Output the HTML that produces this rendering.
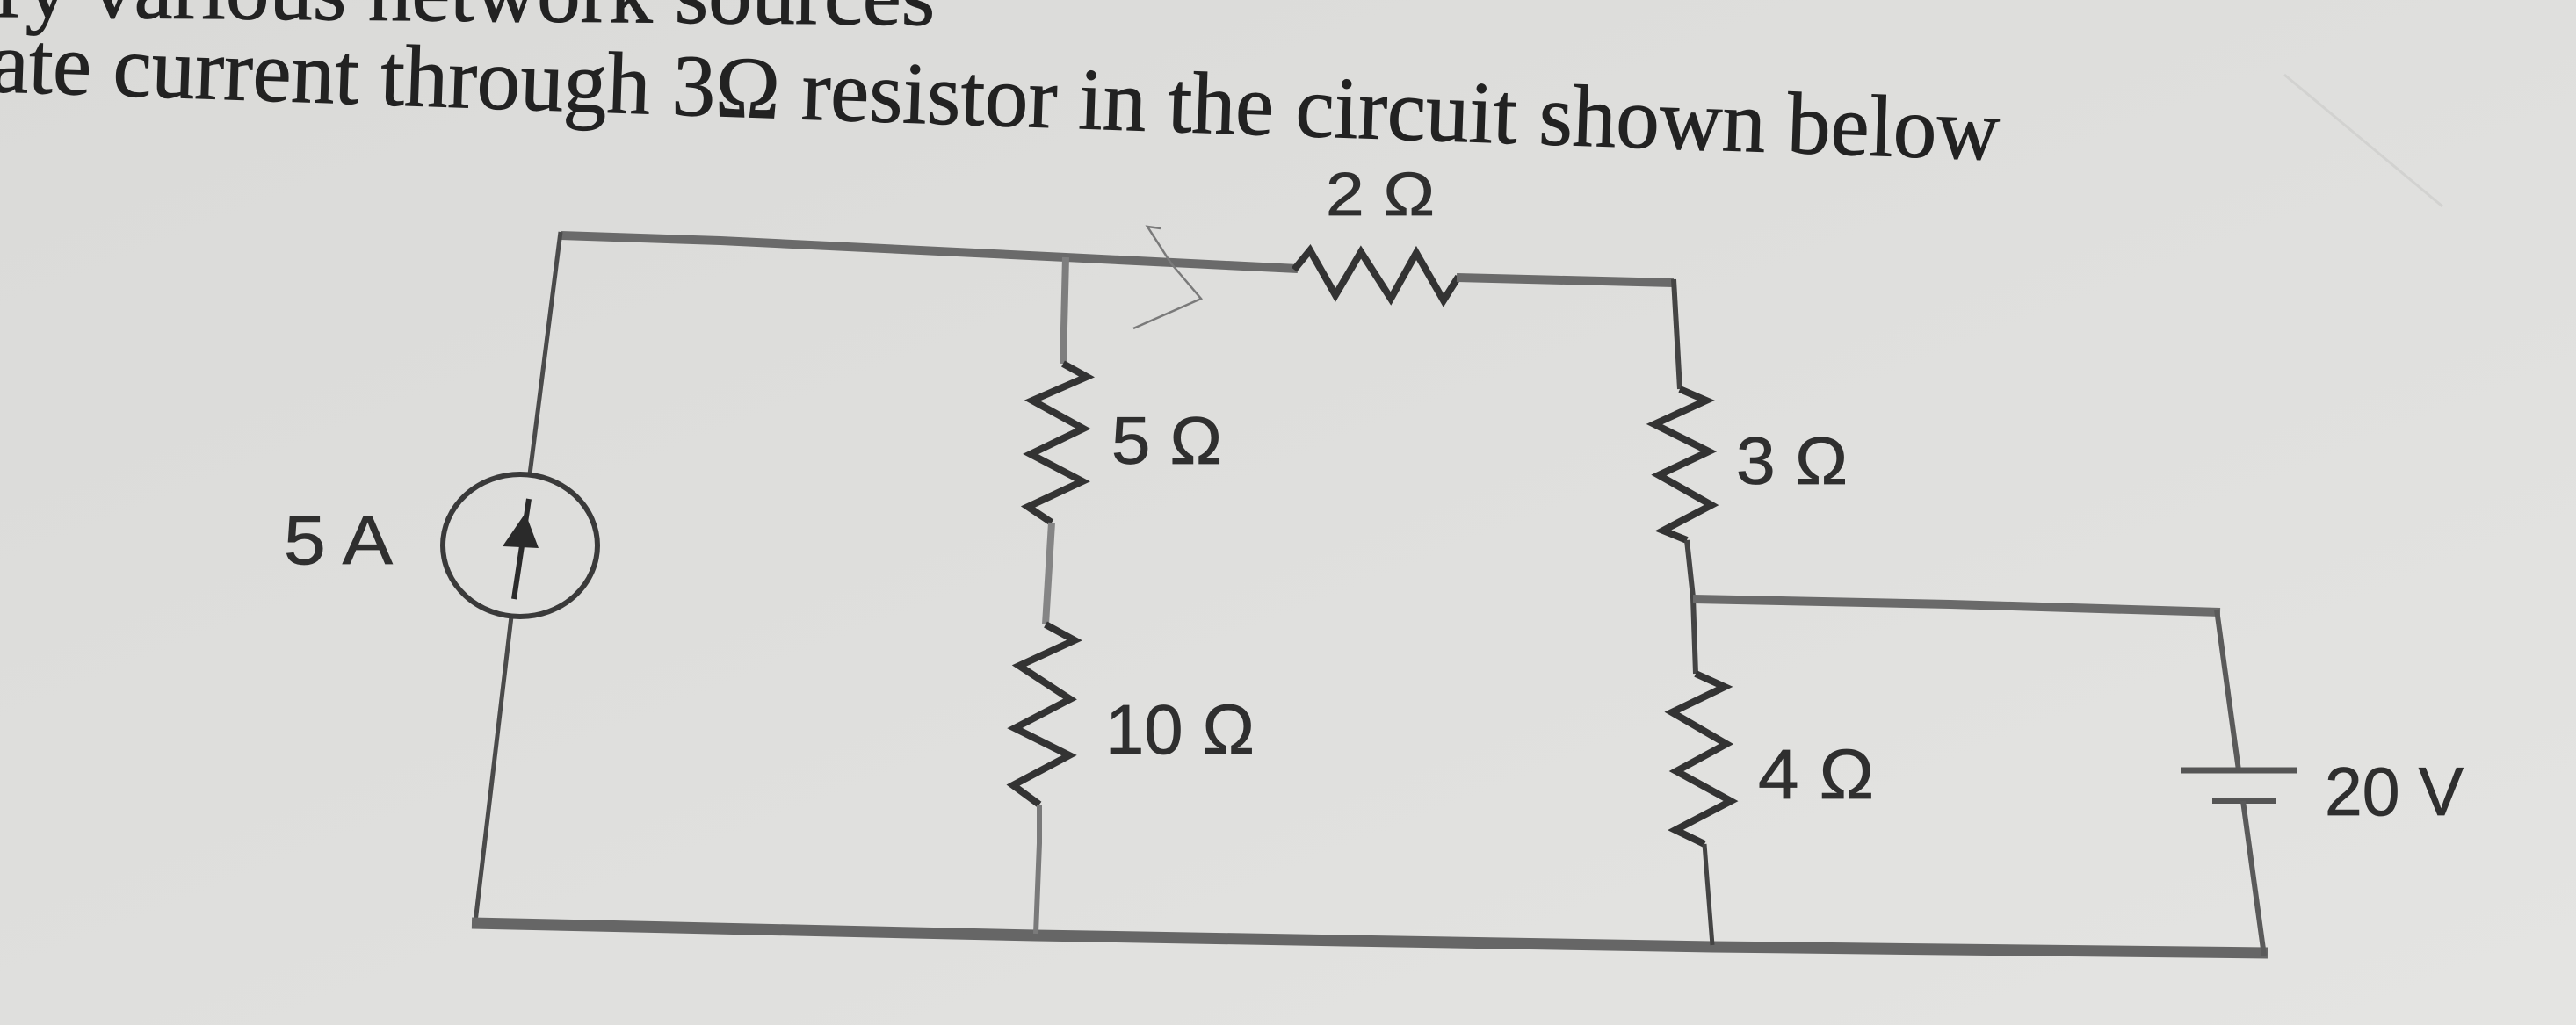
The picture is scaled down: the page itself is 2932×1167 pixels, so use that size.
<!DOCTYPE html>
<html>
<head>
<meta charset="utf-8">
<style>
  html, body { margin:0; padding:0; width:2932px; height:1167px; overflow:hidden; background:#dfdfdd; }
  svg { display:block; }
  .serif { font-family: "Liberation Serif", "DejaVu Serif", serif; fill:#222; stroke:#222; stroke-width:0.9; }
  .lbl { font-family: "Liberation Sans", "DejaVu Sans", sans-serif; fill:#2f2f2f; stroke:#2f2f2f; stroke-width:0.8; }
</style>
</head>
<body>
<svg width="2932" height="1167" viewBox="0 0 2932 1167" xmlns="http://www.w3.org/2000/svg">
  <defs>
    <linearGradient id="bg" x1="0" y1="0" x2="1" y2="1">
      <stop offset="0" stop-color="#dadad8"/>
      <stop offset="0.5" stop-color="#dfdfdd"/>
      <stop offset="1" stop-color="#e4e4e2"/>
    </linearGradient>
  </defs>
  <rect x="0" y="0" width="2932" height="1167" fill="url(#bg)"/>

  <!-- faint crease top right -->
  <polyline points="2600,85 2690,160 2780,235" fill="none" stroke="#d2d2d0" stroke-width="3"/>

  <!-- Title text lines -->
  <text class="serif" x="-4" y="19" font-size="98" textLength="1068" lengthAdjust="spacingAndGlyphs" transform="rotate(0.5 -4 19)">ry various network sources</text>
  <text class="serif" x="-12" y="104" font-size="100" textLength="2288" lengthAdjust="spacingAndGlyphs" transform="rotate(1.95 -12 104)">ate current through 3Ω resistor in the circuit shown below</text>

  <!-- Top wire (thick hatched) -->
  <polyline points="638,268 820,274 1213,293 1477,306" fill="none" stroke="#6a6a6a" stroke-width="10" stroke-linejoin="miter"/>
  <!-- 2 ohm zigzag -->
  <polyline points="1473,307 1491,285 1520,336 1549,287 1583,340 1612,288 1643,342 1660,315" fill="none" stroke="#333" stroke-width="8" stroke-linejoin="miter"/>
  <!-- wire to 3 ohm corner -->
  <polyline points="1658,316 1905,322" fill="none" stroke="#6a6a6a" stroke-width="10"/>

  <!-- Left wire with current source -->
  <polyline points="638,264 603,540" fill="none" stroke="#4a4a4a" stroke-width="5"/>
  <polyline points="582,702 541,1050" fill="none" stroke="#4a4a4a" stroke-width="5"/>
  <ellipse cx="592" cy="621" rx="88" ry="81" fill="none" stroke="#3a3a3a" stroke-width="6"/>
  <!-- arrow -->
  <line x1="585" y1="682" x2="602" y2="568" stroke="#2a2a2a" stroke-width="6"/>
  <polygon points="598,584 572,622 613,624" fill="#2a2a2a"/>

  <!-- Bottom wire -->
  <polyline points="537,1051 1179,1065 1949,1078 2581,1085" fill="none" stroke="#666" stroke-width="13"/>

  <!-- 5 ohm / 10 ohm branch -->
  <polyline points="1213,293 1210,414" fill="none" stroke="#7e7e7e" stroke-width="8"/>
  <polyline points="1210,414 1237,429 1175,456 1233,488 1173,517 1232,548 1170,577 1197,595" fill="none" stroke="#333" stroke-width="8" stroke-linejoin="miter"/>
  <polyline points="1197,595 1190,711" fill="none" stroke="#858585" stroke-width="8"/>
  <polyline points="1190,711 1223,729 1160,758 1218,796 1155,829 1217,860 1153,894 1183,916" fill="none" stroke="#333" stroke-width="8" stroke-linejoin="miter"/>
  <polyline points="1183,916 1183,960 1179,1063" fill="none" stroke="#7a7a7a" stroke-width="6"/>

  <!-- 3 ohm / 4 ohm branch -->
  <polyline points="1905,318 1912,443" fill="none" stroke="#444" stroke-width="6"/>
  <polyline points="1912,443 1942,456 1883,483 1945,514 1888,541 1948,575 1893,604 1920,615" fill="none" stroke="#333" stroke-width="8" stroke-linejoin="miter"/>
  <polyline points="1920,615 1927,680 1930,767" fill="none" stroke="#444" stroke-width="6"/>
  <polyline points="1930,767 1963,782 1903,811 1965,847 1908,878 1970,912 1907,945 1940,961" fill="none" stroke="#333" stroke-width="8" stroke-linejoin="miter"/>
  <polyline points="1940,961 1943,1000 1949,1076" fill="none" stroke="#444" stroke-width="5"/>

  <!-- junction wire to battery -->
  <polyline points="1927,682 2220,688 2527,697" fill="none" stroke="#6a6a6a" stroke-width="10"/>
  <polyline points="2523,694 2548,877" fill="none" stroke="#5a5a5a" stroke-width="6"/>
  <!-- battery plates -->
  <line x1="2482" y1="877" x2="2615" y2="877" stroke="#555" stroke-width="7"/>
  <line x1="2518" y1="912" x2="2590" y2="912" stroke="#555" stroke-width="6"/>
  <polyline points="2553,912 2577,1088" fill="none" stroke="#5a5a5a" stroke-width="6"/>

  <!-- pen mark -->
  <polyline points="1321,260 1306,258 1333,300 1367,340 1290,374" fill="none" stroke="#7a7a7a" stroke-width="2.5"/>

  <!-- Labels -->
  <text class="lbl" x="323" y="642" font-size="79" textLength="124" lengthAdjust="spacingAndGlyphs">5 A</text>
  <text class="lbl" x="1509" y="245" font-size="70" textLength="124" lengthAdjust="spacingAndGlyphs">2 Ω</text>
  <text class="lbl" x="1265" y="528" font-size="76" textLength="126" lengthAdjust="spacingAndGlyphs">5 Ω</text>
  <text class="lbl" x="1258" y="858" font-size="80" textLength="170" lengthAdjust="spacingAndGlyphs">10 Ω</text>
  <text class="lbl" x="1976" y="551" font-size="76" textLength="127" lengthAdjust="spacingAndGlyphs">3 Ω</text>
  <text class="lbl" x="2001" y="909" font-size="80" textLength="132" lengthAdjust="spacingAndGlyphs">4 Ω</text>
  <text class="lbl" x="2646" y="928" font-size="78" textLength="158" lengthAdjust="spacingAndGlyphs">20 V</text>
</svg>
</body>
</html>
